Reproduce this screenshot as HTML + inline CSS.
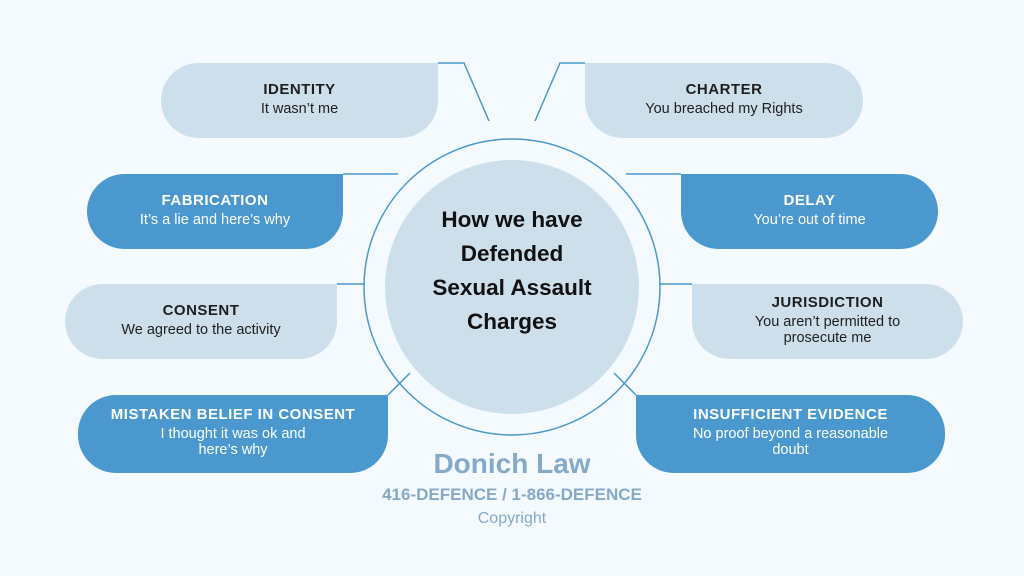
<!DOCTYPE html>
<html><head><style>
body{margin:0;width:1024px;height:576px;background:#f5faff;position:relative;overflow:hidden;font-family:"Liberation Sans",sans-serif}
.b{position:absolute;height:75px;display:flex;flex-direction:column;align-items:center;justify-content:center;text-align:center;box-sizing:border-box;padding-bottom:4px}
.l{border-radius:38px 0 38px 38px}
.r{border-radius:0 38px 38px 38px}
.lt{background:#cedfec;color:#1e1e1e}
.dk{background:#4a98cd;color:#fff}
.b b{font-size:15px;letter-spacing:.5px;margin-bottom:3px}
.b span{font-size:14.5px;line-height:16px}
.c{position:absolute;left:385px;top:160px;width:254px;height:254px;border-radius:50%;background:#cedfec;display:flex;align-items:center;justify-content:center;text-align:center;font-weight:bold;font-size:22.5px;line-height:34px;color:#111;box-sizing:border-box;padding-bottom:32px}
</style></head><body>
<svg width="1024" height="576" style="position:absolute;left:0;top:0">
<circle cx="512" cy="287" r="148" fill="none" stroke="#4a98cd" stroke-width="1.5"/>
<g stroke="#4a98cd" stroke-width="1.5" fill="none">
<polyline points="438,63 464,63 489,121"/>
<polyline points="585,63 560,63 535,121"/>
<line x1="343" y1="174" x2="398" y2="174"/>
<line x1="626" y1="174" x2="681" y2="174"/>
<line x1="337" y1="284" x2="365" y2="284"/>
<line x1="659" y1="284" x2="692" y2="284"/>
<line x1="388" y1="395" x2="410" y2="373"/>
<line x1="614" y1="373" x2="636" y2="395"/>
</g>
</svg>
<div class="c">How we have<br>Defended<br>Sexual Assault<br>Charges</div>
<div class="b l lt" style="left:161px;top:63px;width:277px"><b>IDENTITY</b><span>It wasn’t me</span></div>
<div class="b r lt" style="left:585px;top:63px;width:278px"><b>CHARTER</b><span>You breached my Rights</span></div>
<div class="b l dk" style="left:87px;top:174px;width:256px"><b>FABRICATION</b><span>It’s a lie and here’s why</span></div>
<div class="b r dk" style="left:681px;top:174px;width:257px"><b>DELAY</b><span>You’re out of time</span></div>
<div class="b l lt" style="left:65px;top:284px;width:272px"><b>CONSENT</b><span>We agreed to the activity</span></div>
<div class="b r lt" style="left:692px;top:284px;width:271px"><b>JURISDICTION</b><span>You aren’t permitted to<br>prosecute me</span></div>
<div class="b l dk" style="left:78px;top:395px;width:310px;height:78px"><b>MISTAKEN BELIEF IN CONSENT</b><span>I thought it was ok and<br>here’s why</span></div>
<div class="b r dk" style="left:636px;top:395px;width:309px;height:78px"><b>INSUFFICIENT EVIDENCE</b><span>No proof beyond a reasonable<br>doubt</span></div>
<div style="position:absolute;left:262px;width:500px;top:447px;text-align:center;color:#86a9c8">
<div style="font-size:28px;font-weight:bold;line-height:34px">Donich Law</div>
<div style="font-size:17px;font-weight:bold;margin-top:4px">416-DEFENCE / 1-866-DEFENCE</div>
<div style="font-size:16px;margin-top:5px">Copyright</div>
</div>
</body></html>
